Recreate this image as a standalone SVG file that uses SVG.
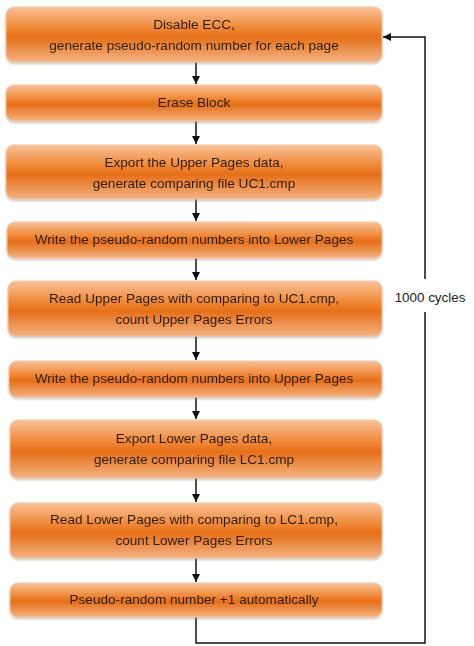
<svg xmlns="http://www.w3.org/2000/svg" width="474" height="646" viewBox="0 0 474 646">
<style>
.box{fill:url(#g);stroke:#f3c9a6;stroke-width:1}
.t{font-family:"Liberation Sans",Arial,sans-serif;font-size:13.6px;fill:#2e1e10;text-anchor:middle}
.l{font-family:"Liberation Sans",Arial,sans-serif;font-size:13.4px;fill:#222;text-anchor:middle}
.c{stroke:#111;stroke-width:1.5;fill:none}
</style>
<defs>
<linearGradient id="g" x1="0" y1="0" x2="0" y2="1">
<stop offset="0" stop-color="#f8c29a"/>
<stop offset="0.4" stop-color="#ef8532"/>
<stop offset="0.55" stop-color="#e66f18"/>
<stop offset="1" stop-color="#f4b282"/>
</linearGradient>
<filter id="s" x="-5%" y="-20%" width="110%" height="150%">
<feDropShadow dx="0" dy="1.5" stdDeviation="1" flood-color="#a08070" flood-opacity="0.5"/>
</filter>
<marker id="a" markerWidth="10" markerHeight="10" refX="9" refY="5" orient="auto" markerUnits="userSpaceOnUse">
<path d="M1,1 L9,5 L1,9 Z" fill="#111"/>
</marker>
</defs>
<rect width="474" height="646" fill="#fff"/>
<g id="connectors">
<line class="c" x1="196" y1="62" x2="196" y2="84" marker-end="url(#a)"/>
<line class="c" x1="196" y1="121" x2="196" y2="144" marker-end="url(#a)"/>
<line class="c" x1="196" y1="199" x2="196" y2="221" marker-end="url(#a)"/>
<line class="c" x1="196" y1="258" x2="196" y2="280" marker-end="url(#a)"/>
<line class="c" x1="196" y1="336" x2="196" y2="360" marker-end="url(#a)"/>
<line class="c" x1="196" y1="397" x2="196" y2="419" marker-end="url(#a)"/>
<line class="c" x1="196" y1="478" x2="196" y2="502" marker-end="url(#a)"/>
<line class="c" x1="196" y1="558" x2="196" y2="582" marker-end="url(#a)"/>
<polyline class="c" points="196,617 196,643 425,643 425,312"/>
<polyline class="c" points="425,279 425,37 383,37" marker-end="url(#a)"/>
<text class="l" x="430" y="302">1000 cycles</text>
</g>
<g id="n1" filter="url(#s)"><rect class="box" x="6" y="7" width="376" height="55" rx="8"/>
<text class="t" x="194" y="29">Disable ECC,</text><text class="t" x="194" y="50">generate pseudo-random number for each page</text></g>
<g id="n2" filter="url(#s)"><rect class="box" x="6" y="85" width="376" height="36" rx="8"/>
<text class="t" x="194" y="107">Erase Block</text></g>
<g id="n3" filter="url(#s)"><rect class="box" x="6" y="145" width="376" height="54" rx="8"/>
<text class="t" x="194" y="167">Export the Upper Pages data,</text><text class="t" x="194" y="188">generate comparing file UC1.cmp</text></g>
<g id="n4" filter="url(#s)"><rect class="box" x="7" y="222" width="375" height="36" rx="8"/>
<text class="t" x="194" y="244">Write the pseudo-random numbers into Lower Pages</text></g>
<g id="n5" filter="url(#s)"><rect class="box" x="8" y="281" width="374" height="55" rx="8"/>
<text class="t" x="194" y="303">Read Upper Pages with comparing to UC1.cmp,</text><text class="t" x="194" y="324">count Upper Pages Errors</text></g>
<g id="n6" filter="url(#s)"><rect class="box" x="9" y="361" width="373" height="36" rx="8"/>
<text class="t" x="194" y="383">Write the pseudo-random numbers into Upper Pages</text></g>
<g id="n7" filter="url(#s)"><rect class="box" x="10" y="420" width="372" height="58" rx="8"/>
<text class="t" x="194" y="443">Export Lower Pages data,</text><text class="t" x="194" y="464">generate comparing file LC1.cmp</text></g>
<g id="n8" filter="url(#s)"><rect class="box" x="10" y="503" width="372" height="55" rx="8"/>
<text class="t" x="194" y="524">Read Lower Pages with comparing to LC1.cmp,</text><text class="t" x="194" y="545">count Lower Pages Errors</text></g>
<g id="n9" filter="url(#s)"><rect class="box" x="10" y="583" width="372" height="34" rx="8"/>
<text class="t" x="194" y="604">Pseudo-random number +1 automatically</text></g>
</svg>
